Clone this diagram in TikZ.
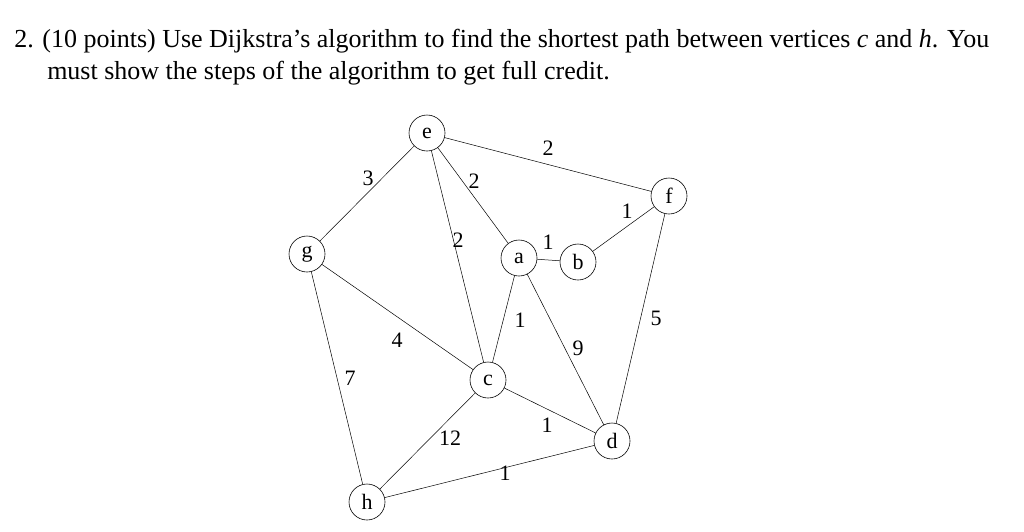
\documentclass[tikz,border=0pt]{standalone}
\usepackage{fontspec}
\setmainfont{Liberation Serif}
\begin{document}
\begin{tikzpicture}[x=1pt,y=-1pt,
  v/.style={circle,draw,line width=0.6pt,minimum size=36pt,inner sep=0pt,font=\fontsize{22}{22}\selectfont},
  lbl/.style={font=\fontsize{22}{22}\selectfont,inner sep=1pt},
  every path/.style={line width=0.5pt}]
\useasboundingbox (0,0) rectangle (1024,531);
\node[anchor=base west,font=\fontsize{26}{30}\selectfont,inner sep=0] (t1) at (14,47) {2. (10 points) Use Dijkstra’s algorithm to find the shortest path between vertices \textit{c} and \textit{h}. You};
\node[anchor=base west,font=\fontsize{26}{30}\selectfont,inner sep=0] (t2) at (47,79) {must show the steps of the algorithm to get full credit.};
\node[v] (e) at (427,133) {e};
\node[v] (f) at (669,196) {f};
\node[v] (g) at (307,254) {g};
\node[v] (a) at (519,258) {a};
\node[v] (b) at (578,262) {b};
\node[v] (c) at (488,380) {c};
\node[v] (d) at (612,441) {d};
\node[v] (h) at (367,502) {h};
\draw (e)--(f); \draw (g)--(e); \draw (e)--(a); \draw (e)--(c);
\draw (a)--(b); \draw (b)--(f); \draw (g)--(c); \draw (a)--(c);
\draw (a)--(d); \draw (f)--(d); \draw (g)--(h); \draw (c)--(h);
\draw (c)--(d); \draw (h)--(d);
\node[lbl] (l1) at (548,148) {2};
\node[lbl] (l2) at (368,178) {3};
\node[lbl] (l3) at (474,181) {2};
\node[lbl] (l4) at (458,240) {2};
\node[lbl] (l5) at (548,242) {1};
\node[lbl] (l6) at (627,211) {1};
\node[lbl] (l7) at (397,340) {4};
\node[lbl] (l8) at (520,320) {1};
\node[lbl] (l9) at (578,348) {9};
\node[lbl] (l10) at (656,318) {5};
\node[lbl] (l11) at (350,378) {7};
\node[lbl] (l12) at (450,438) {12};
\node[lbl] (l13) at (547,425) {1};
\node[lbl] (l14) at (505,473) {1};
\end{tikzpicture}
\end{document}
